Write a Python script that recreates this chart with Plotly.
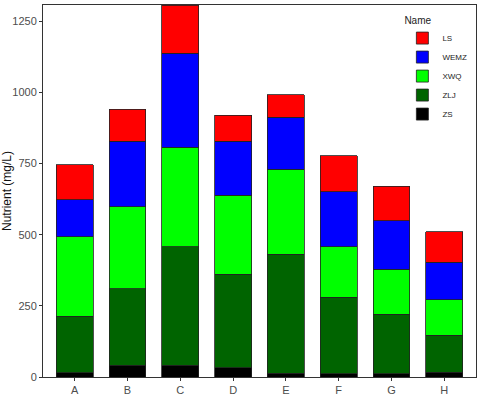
import plotly.graph_objects as go

# sites and stacked nutrient components (mg/L)
sites = ["A", "B", "C", "D", "E", "F", "G", "H"]
zs = [15, 41, 41, 32, 14, 12, 12, 16]
zlj = [198, 269, 417, 329, 418, 268, 208, 130]
xwq = [280, 289, 350, 277, 298, 178, 158, 126]
wemz = [130, 230, 330, 191, 182, 193, 171, 131]
ls = [123, 111, 168, 90, 80, 126, 121, 108]

names = ["ZS", "ZLJ", "XWQ", "WEMZ", "LS"]
series = [zs, zlj, xwq, wemz, ls]
colors = ["#000000", "#006400", "#00FF00", "#0000FF", "#FF0000"]

fig = go.Figure()
for nm, vals, col in zip(names, series, colors):
    fig.add_trace(go.Bar(
        x=sites, y=vals, name=nm,
        marker=dict(color=col, line=dict(color="#222222", width=0.8)),
    ))

fig.update_layout(
    barmode="stack",
    bargap=0.3,
    width=480, height=408,
    margin=dict(l=43, r=4, t=5, b=31),
    paper_bgcolor="white",
    plot_bgcolor="white",
    font=dict(family="Arial, Liberation Sans, sans-serif", color="#4d4d4d", size=11),
    legend=dict(
        title=dict(text="Name", font=dict(size=10, color="#222222")),
        traceorder="reversed",
        x=0.83, y=0.985, xanchor="left", yanchor="top",
        font=dict(size=8, color="#222222"),
        bgcolor="rgba(0,0,0,0)",
        tracegroupgap=0,
        itemwidth=30,
    ),
    xaxis=dict(
        range=[-0.6, 7.6],
        automargin=False,
        showline=True, mirror=True, linecolor="#333333", linewidth=1,
        ticks="outside", ticklen=3, tickcolor="#333333",
        showgrid=False,
    ),
    yaxis=dict(
        range=[0, 1307],
        automargin=False,
        tickvals=[0, 250, 500, 750, 1000, 1250],
        showline=True, mirror=True, linecolor="#333333", linewidth=1,
        ticks="outside", ticklen=3, tickcolor="#333333",
        showgrid=False, zeroline=False,
        title=dict(text="Nutrient (mg/L)", font=dict(size=12, color="#111111"), standoff=4),
    ),
)

# drop the browser's default 8px body margin so the figure sits at the corner
fig.write_html("out.html", config={"displayModeBar": False},
               post_script="document.body.style.margin='0';")
